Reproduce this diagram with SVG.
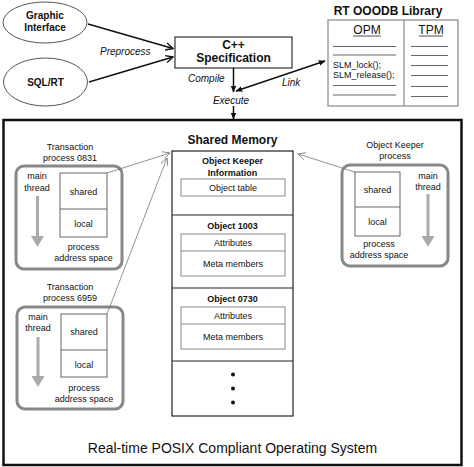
<svg xmlns="http://www.w3.org/2000/svg" width="474" height="467" viewBox="0 0 474 467">
<defs>
<style>
text{font-family:"Liberation Sans",Arial,sans-serif;fill:#111;}
.b{font-weight:bold;}
.it{font-style:italic;}
.c{text-anchor:middle;}
.ell{fill:#fff;stroke:#555;stroke-width:1;}
.box{fill:#fff;stroke:#333;stroke-width:1.2;}
.lib{fill:#fff;stroke:#888;stroke-width:1.2;}
.gl{stroke:#666;stroke-width:1.5;}
.rb{fill:#fff;stroke:#888;stroke-width:3;}
.ib{fill:#fff;stroke:#666;stroke-width:1;}
.sm{fill:#fff;stroke:#222;stroke-width:1.2;}
.smi{fill:#fff;stroke:#888;stroke-width:1;}
.blk{stroke:#111;stroke-width:1.5;fill:none;}
.thin{stroke:#777;stroke-width:0.8;fill:none;}
.thread{stroke:#aaa;stroke-width:3;}
</style>
<marker id="fa" viewBox="0 0 10 10" refX="9" refY="5" markerWidth="7" markerHeight="7" orient="auto-start-reverse" markerUnits="userSpaceOnUse">
<path d="M0,1 L10,5 L0,9 z" fill="#111"/>
</marker>
<marker id="oa" viewBox="0 0 10 10" refX="9" refY="5" markerWidth="9" markerHeight="9" orient="auto" markerUnits="userSpaceOnUse">
<path d="M1,1 L9,5 L1,9" fill="none" stroke="#111" stroke-width="1.5"/>
</marker>
<marker id="ga" viewBox="0 0 10 10" refX="9" refY="5" markerWidth="9" markerHeight="9" orient="auto" markerUnits="userSpaceOnUse">
<path d="M1,1 L9,5 L1,9" fill="none" stroke="#777" stroke-width="0.9"/>
</marker>
</defs>

<g id="graphic-interface">
<ellipse class="ell" cx="45" cy="22.5" rx="42" ry="20.5"/>
<text class="b c" x="45" y="19" font-size="10">Graphic</text>
<text class="b c" x="45" y="30.5" font-size="10">Interface</text>
</g>

<g id="sql-rt">
<ellipse class="ell" cx="45.5" cy="82" rx="42" ry="24"/>
<text class="b c" x="45.5" y="85.5" font-size="10">SQL/RT</text>
</g>

<g id="cpp-spec">
<rect class="box" x="175" y="37" width="117" height="31"/>
<text class="b c" x="233.5" y="49" font-size="12">C++</text>
<text class="b c" x="233.5" y="62" font-size="12">Specification</text>
</g>

<g id="library">
<text class="b c" x="388" y="15" font-size="12">RT OOODB Library</text>
<rect class="lib" x="328" y="20" width="130" height="86"/>
<line x1="404" y1="20" x2="404" y2="106" stroke="#888" stroke-width="1.2"/>
<text class="c" x="367" y="34" font-size="12">OPM</text>
<line x1="353" y1="36" x2="381" y2="36" stroke="#222" stroke-width="0.8"/>
<text class="c" x="431" y="34" font-size="12">TPM</text>
<line x1="419" y1="36" x2="443" y2="36" stroke="#222" stroke-width="0.8"/>
<g stroke="#666" stroke-width="1">
<line x1="333" y1="46.5" x2="396" y2="46.5"/>
<line x1="333" y1="55" x2="396" y2="55"/>
<line x1="333" y1="85.5" x2="396" y2="85.5"/>
<line x1="333" y1="95" x2="396" y2="95"/>
<line x1="411" y1="46.5" x2="448" y2="46.5"/>
<line x1="411" y1="55.5" x2="448" y2="55.5"/>
<line x1="411" y1="65.5" x2="448" y2="65.5"/>
<line x1="411" y1="75.5" x2="448" y2="75.5"/>
<line x1="411" y1="86.5" x2="448" y2="86.5"/>
<line x1="411" y1="96.5" x2="448" y2="96.5"/>
</g>
<text x="333" y="68" font-size="9">SLM_lock();</text>
<text x="333" y="78" font-size="9">SLM_release();</text>
</g>

<g id="os">
<rect x="3.5" y="120" width="458" height="345" fill="none" stroke="#111" stroke-width="2.5"/>
<text class="c" x="232.5" y="453" font-size="14">Real-time POSIX Compliant Operating System</text>
</g>

<g id="shared-memory">
<text class="b c" x="232.5" y="144" font-size="12">Shared Memory</text>
<rect class="sm" x="172" y="151" width="121" height="265"/>
<line x1="172" y1="215" x2="293" y2="215" stroke="#222" stroke-width="1.2"/>
<line x1="172" y1="288" x2="293" y2="288" stroke="#222" stroke-width="1.2"/>
<line x1="172" y1="361" x2="293" y2="361" stroke="#222" stroke-width="1.2"/>
</g>

<g id="object-keeper-info">
<text class="b c" x="232.5" y="164" font-size="9">Object Keeper</text>
<text class="b c" x="232.5" y="175.5" font-size="9">Information</text>
<rect class="smi" x="181" y="179" width="104" height="17"/>
<text class="c" x="233" y="191" font-size="9">Object table</text>
</g>

<g id="object-1003">
<text class="b c" x="232.5" y="228.5" font-size="9">Object 1003</text>
<rect class="smi" x="181" y="234" width="104" height="42"/>
<line x1="181" y1="251" x2="285" y2="251" stroke="#888" stroke-width="1"/>
<text class="c" x="233" y="245.5" font-size="9">Attributes</text>
<text class="c" x="233" y="267" font-size="9">Meta members</text>
</g>

<g id="object-0730">
<text class="b c" x="232.5" y="301.5" font-size="9">Object 0730</text>
<rect class="smi" x="181" y="307" width="104" height="42"/>
<line x1="181" y1="324" x2="285" y2="324" stroke="#888" stroke-width="1"/>
<text class="c" x="233" y="318.5" font-size="9">Attributes</text>
<text class="c" x="233" y="340" font-size="9">Meta members</text>
</g>

<g id="more-objects">
<circle cx="233" cy="374.5" r="2" fill="#111"/>
<circle cx="233" cy="388.5" r="2" fill="#111"/>
<circle cx="233" cy="402.5" r="2" fill="#111"/>
</g>

<g id="transaction-0831">
<text class="c" x="70" y="150" font-size="9">Transaction</text>
<text class="c" x="70" y="161" font-size="9">process 0831</text>
<rect class="rb" x="16" y="166" width="106" height="103" rx="8"/>
<rect class="ib" x="60" y="173" width="47" height="64"/>
<line x1="60" y1="209" x2="107" y2="209" stroke="#666" stroke-width="1"/>
<text class="c" x="83.5" y="194.5" font-size="9">shared</text>
<text class="c" x="83.5" y="226.5" font-size="9">local</text>
<text class="c" x="37" y="179" font-size="9">main</text>
<text class="c" x="37" y="190.5" font-size="9">thread</text>
<line class="thread" x1="37.5" y1="196" x2="37.5" y2="240"/>
<path d="M31,236 L44,236 L37.5,247 z" fill="#aaa"/>
<text class="c" x="83.5" y="249.5" font-size="9">process</text>
<text class="c" x="83.5" y="260.5" font-size="9">address space</text>
</g>

<g id="transaction-6959">
<text class="c" x="70" y="290" font-size="9">Transaction</text>
<text class="c" x="70" y="301" font-size="9">process 6959</text>
<rect class="rb" x="17" y="307" width="106" height="102" rx="8"/>
<rect class="ib" x="61" y="314" width="46" height="63"/>
<line x1="61" y1="350" x2="107" y2="350" stroke="#666" stroke-width="1"/>
<text class="c" x="84" y="335" font-size="9">shared</text>
<text class="c" x="84" y="367.5" font-size="9">local</text>
<text class="c" x="38" y="320" font-size="9">main</text>
<text class="c" x="38" y="331" font-size="9">thread</text>
<line class="thread" x1="38" y1="337" x2="38" y2="380"/>
<path d="M31.5,376 L44.5,376 L38,387 z" fill="#aaa"/>
<text class="c" x="84" y="390.5" font-size="9">process</text>
<text class="c" x="84" y="401.5" font-size="9">address space</text>
</g>

<g id="object-keeper-process">
<text class="c" x="395" y="148" font-size="9">Object Keeper</text>
<text class="c" x="395" y="159" font-size="9">process</text>
<rect class="rb" x="342" y="165" width="106" height="101" rx="8"/>
<rect class="ib" x="355" y="172" width="45" height="64"/>
<line x1="355" y1="207" x2="400" y2="207" stroke="#666" stroke-width="1"/>
<text class="c" x="377.5" y="192.5" font-size="9">shared</text>
<text class="c" x="377.5" y="224.5" font-size="9">local</text>
<text class="c" x="428" y="179" font-size="9">main</text>
<text class="c" x="428" y="190" font-size="9">thread</text>
<line class="thread" x1="428" y1="194" x2="428" y2="240"/>
<path d="M421.5,236 L434.5,236 L428,247 z" fill="#aaa"/>
<text class="c" x="379" y="246.5" font-size="9">process</text>
<text class="c" x="379" y="257.5" font-size="9">address space</text>
</g>

<g id="connectors">
<line class="blk" x1="88" y1="24" x2="173" y2="48.5" marker-end="url(#oa)"/>
<line class="blk" x1="89" y1="82" x2="173" y2="57" marker-end="url(#oa)"/>
<text class="it" x="100" y="55" font-size="10">Preprocess</text>
<line class="blk" x1="233.5" y1="68" x2="233.5" y2="92" marker-end="url(#fa)"/>
<text class="it" x="188" y="82" font-size="10">Compile</text>
<line class="blk" x1="236" y1="91" x2="325" y2="61" marker-start="url(#fa)" marker-end="url(#fa)"/>
<text class="it" x="282" y="86" font-size="10">Link</text>
<text class="it c" x="231" y="104" font-size="10">Execute</text>
<line class="blk" x1="233.5" y1="106" x2="233.5" y2="119" marker-end="url(#fa)"/>
<line class="thin" x1="107" y1="173" x2="170" y2="153" marker-end="url(#ga)"/>
<line class="thin" x1="107" y1="314" x2="167" y2="158" marker-end="url(#ga)"/>
<line class="thin" x1="355" y1="172" x2="298" y2="154" marker-end="url(#ga)"/>
</g>
</svg>
